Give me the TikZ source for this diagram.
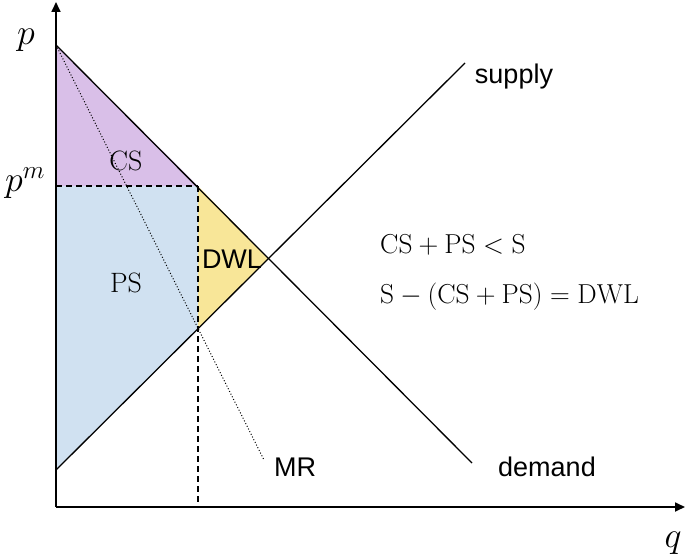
\RequirePackage{fix-cm}
\documentclass[tikz,border=0pt]{standalone}
\usepackage{fontspec}
\newfontfamily\lab{Liberation Sans}
\usetikzlibrary{arrows.meta}
\definecolor{csc}{RGB}{217,191,232}
\definecolor{psc}{RGB}{208,225,241}
\definecolor{dwlc}{RGB}{248,230,152}
\tikzset{
  axis/.style={line width=1.7pt,-{Triangle[length=10pt,width=9pt]}},
  curve/.style={line width=1.3pt},
  guide/.style={line width=1.4pt,dash pattern=on 6pt off 4pt},
  mr/.style={line width=1pt,dotted},
  lbl/.style={font=\lab\fontsize{27}{30}\selectfont,inner sep=0pt},
  mlbl/.style={font=\fontsize{28}{32}\selectfont,inner sep=0pt},
  eqlbl/.style={font=\fontsize{27.4}{32}\selectfont,inner sep=0pt,anchor=west},
  alab/.style={font=\fontsize{36}{40}\selectfont,inner sep=0pt}
}
\begin{document}
\begin{tikzpicture}[x=1pt,y=-1pt]
\useasboundingbox (0,0) rectangle (685,559);
% key points
\coordinate (O) at (56,507);
\coordinate (ytop) at (56,2);
\coordinate (xend) at (685,507);
\coordinate (pmax) at (56,45);
\coordinate (dend) at (472,463);
\coordinate (s0) at (56,470);
\coordinate (send) at (465,63);
\coordinate (pm) at (56,186);
\coordinate (qm) at (198,186);
\coordinate (qs) at (198,329);
\coordinate (qb) at (198,507);
\coordinate (eq) at (268.5,258.6);
\coordinate (mrend) at (264,460);
% areas
\fill[csc] (pmax) -- (qm) -- (pm) -- cycle;
\fill[psc] (pm) -- (qm) -- (qs) -- (s0) -- cycle;
\fill[dwlc] (qm) -- (eq) -- (qs) -- cycle;
% curves
\draw[curve] (pmax) -- (dend);
\draw[curve] (s0) -- (send);
\draw[mr] (pmax) -- (mrend);
\draw[guide] (pm) -- (qm);
\draw[guide] (qm) -- (qb);
% axes
\draw[axis] (O) -- (ytop);
\draw[axis] (O) -- (xend);
% labels
\node[alab] (p) at (26,40) {$p$};
\node[alab] (pml) at (25,183) {$p^m$};
\node[alab] (q) at (673,543) {$q$};
\node[mlbl] (cs) at (126,161) {$\mathrm{CS}$};
\node[mlbl] (ps) at (126,283) {$\mathrm{PS}$};
\node[lbl] (dwl) at (232,259) {DWL};
\node[lbl] (mrl) at (295,467) {MR};
\node[lbl] (dem) at (547,467) {demand};
\node[lbl] (sup) at (514,77) {supply};
\node[eqlbl] (eq1) at (380,245) {$\mathrm{CS}+\mathrm{PS}<\mathrm{S}$};
\node[eqlbl] (eq2) at (380,297) {$\mathrm{S}-(\mathrm{CS}+\mathrm{PS})=\mathrm{DWL}$};
\end{tikzpicture}
\end{document}
